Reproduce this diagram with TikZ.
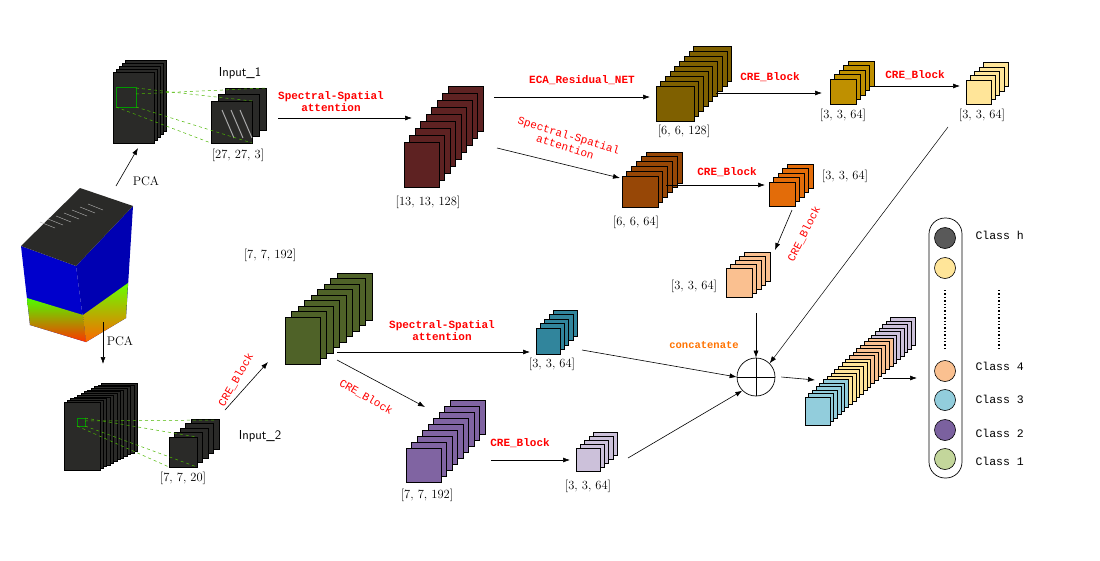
\documentclass[tikz,border=0pt]{standalone}
\usepackage{fontspec}
\newfontfamily\monob{Liberation Mono}
\usetikzlibrary{arrows.meta}
\definecolor{maroon}{HTML}{5E2222}
\definecolor{olive}{HTML}{7F6000}
\definecolor{gold}{HTML}{BF9000}
\definecolor{lyel}{HTML}{FFE599}
\definecolor{brownc}{HTML}{974706}
\definecolor{orng}{HTML}{E36C09}
\definecolor{peach}{HTML}{FAC090}
\definecolor{dgreen}{HTML}{4F6228}
\definecolor{teal}{HTML}{31859C}
\definecolor{purp}{HTML}{8064A2}
\definecolor{lav}{HTML}{CCC1DA}
\definecolor{lblue}{HTML}{92CDDC}
\definecolor{cgreen}{HTML}{C3D69B}
\definecolor{cpurp}{HTML}{7B619F}
\definecolor{photo}{HTML}{2A2A28}
\newcommand\stk[8]{%
  \foreach \i in {#5,...,0}{%
    \pgfmathsetmacro\xa{#1+\i*#6}\pgfmathsetmacro\ya{#2-\i*#7}%
    \draw[fill=#8,line width=0.7pt] (\xa,\ya) rectangle ++(#3,#4);}}
\tikzset{
  arr/.style={-{Latex[length=7pt,width=5pt]},line width=0.6pt},
  redb/.style={text=red,font=\monob\bfseries\fontsize{11}{12}\selectfont,align=center},
  redl/.style={text=red,font=\monob\fontsize{11}{12}\selectfont,align=center},
  dim/.style={font=\fontsize{12.5}{13}\selectfont},
  cls/.style={font=\monob\fontsize{11.5}{12}\selectfont,anchor=west},
  gdash/.style={green!60!black!70!yellow,dashed,line width=0.5pt},
  dotl/.style={dotted,line width=1.4pt}
}
\begin{document}
\begin{tikzpicture}[x=1pt,y=-1pt]
\useasboundingbox[fill=white] (0,0) rectangle (1100,560);
% big cube
\fill[blue!80!black] (21,246) -- (76,266) -- (86,342) -- (30,325) -- cycle;
\fill[blue!70!black] (76,266) -- (133,206) -- (126,318) -- (86,342) -- cycle;
\shade[top color=green!70!yellow, bottom color=red!80!yellow]
  (27,298) -- (83,315) -- (86,342) -- (30,325) -- cycle;
\shade[top color=green!60!yellow, bottom color=orange!80!red]
  (83,315) -- (128,283) -- (126,318) -- (86,342) -- cycle;
\fill[photo] (21,246) -- (80,188) -- (133,206) -- (76,266) -- cycle;
\foreach \k in {0,...,6}{\draw[gray!60,line width=0.4pt] (40+\k*8,222-\k*3) -- (55+\k*8,228-\k*3);}
\coordinate (cubeT) at (116,186); \coordinate (cubeB) at (103,322);
% top PCA stack
\stk{113}{72}{41}{71}{4}{3}{3}{photo}
\draw[green!60!black,line width=0.8pt] (116,87) rectangle (136,107);
\stk{211}{101}{41}{42}{2}{7}{6.5}{photo}
\foreach \k in {0,...,2}{\draw[gray!70,line width=1pt] (222+\k*9,110) -- (234+\k*9,138);}
\draw[gdash] (136,88) -- (252,101); \draw[gdash] (136,94) -- (266,88);
\draw[gdash] (136,107) -- (252,143); \draw[gdash] (116,107) -- (211,143);
\node (in1) at (240,73) {\fontsize{13}{14}\selectfont\sffamily Input\_1};
\node[dim] at (238,155) {[27, 27, 3]};
\coordinate (pcaT) at (138,148);
\draw[arr] (cubeT) -- (pcaT);
\node[dim] at (146,181) {PCA};
% bottom PCA stack
\stk{64}{402}{36}{68}{11}{3.4}{1.7}{photo}
\draw[green!60!black,line width=0.7pt] (77,418) rectangle (85,426);
\stk{169}{437}{28}{30}{4}{5.5}{4.5}{photo}
\draw[gdash] (85,418) -- (197,437); \draw[gdash] (85,421) -- (216,420);
\draw[gdash] (85,426) -- (197,467); \draw[gdash] (77,426) -- (169,467);
\coordinate (pcaB) at (103,364);
\draw[arr] (cubeB) -- (pcaB);
\node[dim] at (120,341) {PCA};
\node at (260,436) {\fontsize{13}{14}\selectfont\sffamily Input\_2};
\node[dim] at (183,478) {[7, 7, 20]};
% maroon
\coordinate (a1) at (278,118); \coordinate (a2) at (412,118);
\draw[arr] (a1) -- (a2);
\node[redb] at (331,102) {Spectral-Spatial\\attention};
\stk{404}{142}{35}{45}{8}{5.5}{7}{maroon}
\node[dim] at (428,202) {[13, 13, 128]};
% ECA -> olive
\coordinate (b1) at (494,97); \coordinate (b2) at (650,97);
\draw[arr] (b1) -- (b2);
\node[redb] at (582,80) {ECA\_Residual\_NET};
\stk{656}{86}{38}{35}{8}{4.7}{5}{olive}
\node[dim] at (684,131) {[6, 6, 128]};
\coordinate (c1) at (716,93); \coordinate (c2) at (822,93);
\draw[arr] (c1) -- (c2);
\node[redb] at (770,77) {CRE\_Block};
\stk{830}{79}{26}{25}{4}{4.5}{4.5}{gold}
\node[dim] at (843,115) {[3, 3, 64]};
\coordinate (d1) at (875,86); \coordinate (d2) at (960,86);
\draw[arr] (d1) -- (d2);
\node[redb] at (915,75) {CRE\_Block};
\stk{966}{80}{25}{24}{4}{4.3}{4.3}{lyel}
\node[dim] at (982,115) {[3, 3, 64]};
% second branch
\coordinate (e1) at (497,148); \coordinate (e2) at (620,178);
\draw[arr] (e1) -- (e2);
\node[redl,rotate=-17] at (567,141) {Spectral-Spatial\\attention};
\stk{622}{176}{36}{31}{5}{4.8}{4.8}{brownc}
\node[dim] at (636,222) {[6, 6, 64]};
\coordinate (f1) at (666,185); \coordinate (f2) at (765,185);
\draw[arr] (f1) -- (f2);
\node[redb] at (727,172) {CRE\_Block};
\stk{769}{182}{26}{24}{4}{4.5}{4.5}{orng}
\node[dim] at (845,176) {[3, 3, 64]};
\coordinate (g1) at (792,210); \coordinate (g2) at (775,250);
\draw[arr] (g1) -- (g2);
\node[redl,rotate=63] at (804,234) {CRE\_Block};
\stk{726}{268}{26}{29}{4}{4.5}{4}{peach}
\node[dim] at (694,286) {[3, 3, 64]};
% oplus
\node[circle,draw,line width=0.7pt,minimum size=38pt,inner sep=0] (op) at (756,377) {};
\draw[line width=0.7pt] (op.north) -- (op.south) (op.west) -- (op.east);
\coordinate (h1) at (756,313);
\draw[arr] (h1) -- (op.north);
\node[text=orange!90!red,font=\monob\bfseries\fontsize{10.5}{11}\selectfont] at (704,345) {concatenate};
\coordinate (y1) at (948,127);
\draw[arr,line width=0.5pt] (y1) -- (op.north east);
% lower branch
\coordinate (i1) at (225,410); \coordinate (i2) at (268,362);
\draw[arr] (i1) -- (i2);
\node[redl,rotate=60] at (236,380) {CRE\_Block};
\stk{285}{317}{35}{47}{8}{6.5}{5.5}{dgreen}
\node[dim] at (270,255) {[7, 7, 192]};
\coordinate (j1) at (337,352); \coordinate (j2) at (530,352);
\draw[arr] (j1) -- (j2);
\node[redb] at (442,331) {Spectral-Spatial\\attention};
\stk{536}{328}{24}{26}{4}{4.4}{4.4}{teal}
\node[dim] at (552,364) {[3, 3, 64]};
\coordinate (k1) at (337,360); \coordinate (k2) at (425,407);
\draw[arr] (k1) -- (k2);
\node[redl,rotate=-30] at (366,397) {CRE\_Block};
\stk{406}{448}{35}{34}{8}{5.5}{6}{purp}
\node[dim] at (427,495) {[7, 7, 192]};
\coordinate (l1) at (491,460); \coordinate (l2) at (570,460);
\draw[arr] (l1) -- (l2);
\node[redb] at (520,443) {CRE\_Block};
\stk{576}{448}{24}{23}{4}{4.4}{4}{lav}
\node[dim] at (588,486) {[3, 3, 64]};
\coordinate (m1) at (582,350); \coordinate (m2) at (628,458);
\draw[arr] (m1) -- (op.west);
\draw[arr] (m2) -- (op.south west);
% concatenated
\coordinate (n2) at (815,380);
\draw[arr] (op.east) ++(6,0) -- (n2);
\foreach \i/\c in {23/lav,22/lav,21/lav,20/lav,19/lav,18/lav,17/peach,16/peach,15/peach,14/peach,13/peach,12/peach,11/lyel,10/lyel,9/lyel,8/lyel,7/lyel,6/lyel,5/lblue,4/lblue,3/lblue,2/lblue,1/lblue,0/lblue}{%
  \pgfmathsetmacro\xa{805+\i*3.7}\pgfmathsetmacro\ya{397-\i*3.45}%
  \draw[fill=\c,line width=0.7pt] (\xa,\ya) rectangle ++(25,28);}
\coordinate (o1) at (883,378); \coordinate (o2) at (917,378);
\draw[arr] (o1) -- (o2);
% class column
\node[draw,rounded corners=16pt,line width=0.7pt,minimum width=33pt,minimum height=260pt] (col) at (945.5,348) {};
\foreach \yy/\c in {238/black!65,268/lyel,371/peach,400/lblue,430/cpurp,459/cgreen}{
  \draw[fill=\c,line width=0.6pt] (945,\yy) circle (10.5);}
\draw[dotl] (945,290) -- (945,350);
\draw[dotl] (999,290) -- (999,350);
\node[cls] at (972,235) {Class h};
\node[cls] at (972,366) {Class 4};
\node[cls] at (972,399) {Class 3};
\node[cls] at (972,433) {Class 2};
\node[cls] at (972,461) {Class 1};
\end{tikzpicture}
\end{document}
